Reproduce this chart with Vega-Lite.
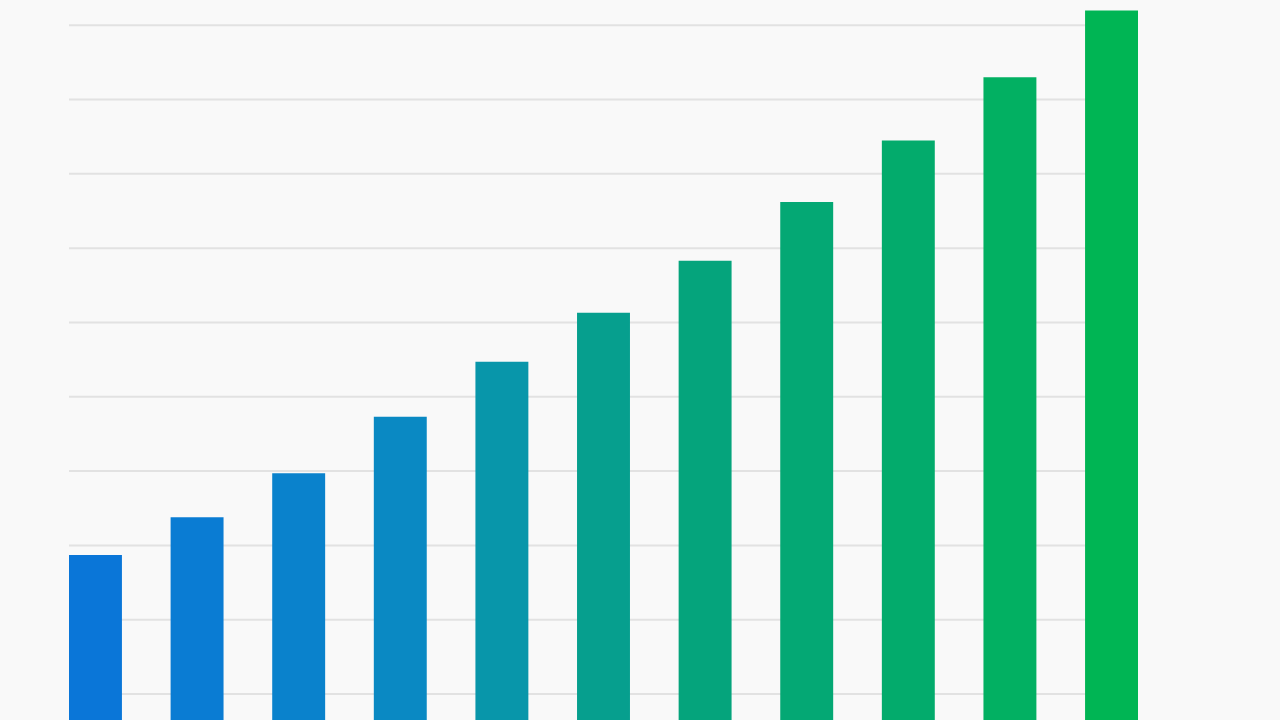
{
  "$schema": "https://vega.github.io/schema/vega-lite/v6.json",
  "width": 1069,
  "height": 720,
  "autosize": {"type": "none"},
  "padding": {"left": 69, "right": 142, "top": 0, "bottom": 0},
  "background": "#f9f9f9",
  "config": {"view": {"stroke": null}},
  "datasets": {
    "bars": [
      {"k": "1", "value": 28.7},
      {"k": "2", "value": 33.8},
      {"k": "3", "value": 39.7},
      {"k": "4", "value": 47.3},
      {"k": "5", "value": 54.7},
      {"k": "6", "value": 61.3},
      {"k": "7", "value": 68.3},
      {"k": "8", "value": 76.2},
      {"k": "9", "value": 84.5},
      {"k": "10", "value": 93.0},
      {"k": "11", "value": 102.0}
    ],
    "grid": [
      {"v": 10, "a": "1", "b": "11"}, {"v": 20, "a": "1", "b": "11"}, {"v": 30, "a": "1", "b": "11"},
      {"v": 40, "a": "1", "b": "11"}, {"v": 50, "a": "1", "b": "11"}, {"v": 60, "a": "1", "b": "11"},
      {"v": 70, "a": "1", "b": "11"}, {"v": 80, "a": "1", "b": "11"}, {"v": 90, "a": "1", "b": "11"},
      {"v": 100, "a": "1", "b": "11"}
    ]
  },
  "layer": [
    {
      "data": {"name": "grid"},
      "mark": {"type": "rule", "color": "#e2e2e2", "strokeWidth": 2},
      "encoding": {
        "y": {"field": "v", "type": "quantitative", "scale": {"domain": [6.5, 103.4], "nice": false, "zero": false}, "axis": null},
        "x": {"field": "a", "type": "nominal", "bandPosition": 0, "scale": {"domain": ["1","2","3","4","5","6","7","8","9","10","11"], "paddingInner": 0.479, "paddingOuter": 0}, "axis": null},
        "x2": {"field": "b"}
      }
    },
    {
      "data": {"name": "bars"},
      "mark": {"type": "bar", "clip": true},
      "encoding": {
        "x": {"field": "k", "type": "nominal", "axis": null},
        "y": {"field": "value", "type": "quantitative", "axis": null},
        "color": {
          "field": "k", "type": "nominal", "legend": null,
          "scale": {
            "domain": ["1","2","3","4","5","6","7","8","9","10","11"],
            "range": ["#0a76d8","#0a7cd3","#0a82cc","#0a89c3","#0896aa","#069f8e","#05a47c","#04a874","#03ab6c","#02b062","#00b554"]
          }
        }
      }
    }
  ]
}
